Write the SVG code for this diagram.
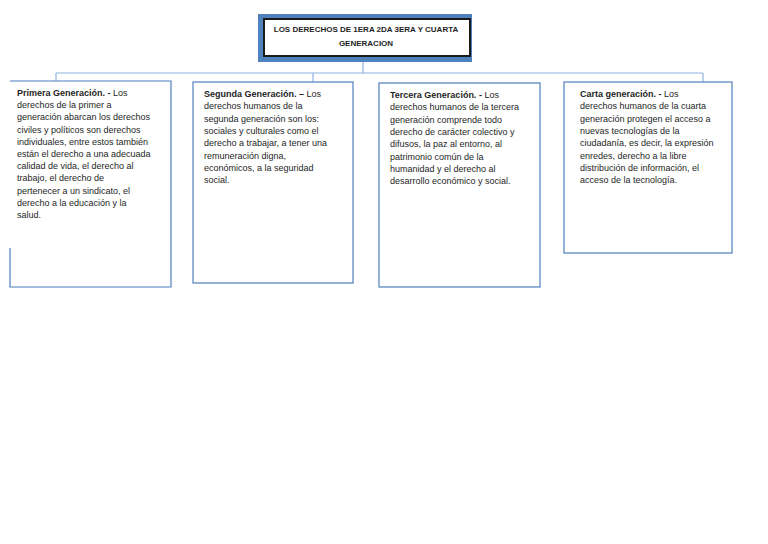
<svg xmlns="http://www.w3.org/2000/svg" width="768" height="544" viewBox="0 0 768 544">
<style>
.box{fill:#fff;stroke:#4f7fbd;stroke-width:1.2}
.con{fill:none;stroke:#8db4e2;stroke-width:1.2}
.t{font-family:"Liberation Sans",Arial,sans-serif;font-size:9px;fill:#1e1e1e}
.b{font-weight:bold}
.h{font-family:"Liberation Sans",Arial,sans-serif;font-size:8px;font-weight:bold;fill:#1e1e1e}
</style>
<rect width="768" height="544" fill="#fff"/>
<g id="connectors">
<path class="con" d="M363 62V73M56 73H703M56 73V81M313 73V82M703 73V82"/>
</g>
<g id="title">
<rect x="258" y="14" width="214" height="48" fill="#4f81bd"/>
<rect x="264" y="19" width="206" height="37" fill="#fff" stroke="#1a1a1a" stroke-width="2"/>
<text class="h" text-anchor="middle" x="366" y="32">LOS DERECHOS DE 1ERA 2DA 3ERA Y CUARTA</text>
<text class="h" text-anchor="middle" x="366" y="46">GENERACION</text>
</g>
<g id="primera">
<rect x="10" y="81" width="161" height="206" fill="#fff"/>
<path fill="none" stroke="#4f7fbd" stroke-width="1.2" d="M10 248V287H171V81H10"/>
<text class="t" x="17" y="96"><tspan class="b">Primera Generación. - </tspan> Los</text>
<text class="t" x="17" y="108.2">derechos de la primer a</text>
<text class="t" x="17" y="120.4">generación abarcan los derechos</text>
<text class="t" x="17" y="132.6">civiles y políticos son derechos</text>
<text class="t" x="17" y="144.8">individuales, entre estos también</text>
<text class="t" x="17" y="157">están el derecho a una adecuada</text>
<text class="t" x="17" y="169.2">calidad de vida, el derecho al</text>
<text class="t" x="17" y="181.4">trabajo, el derecho de</text>
<text class="t" x="17" y="193.6">pertenecer a un sindicato, el</text>
<text class="t" x="17" y="205.8">derecho a la educación y la</text>
<text class="t" x="17" y="218">salud.</text>
</g>
<g id="segunda">
<rect class="box" x="193" y="82" width="160" height="201"/>
<text class="t" x="204" y="97"><tspan class="b">Segunda Generación. –</tspan> Los</text>
<text class="t" x="204" y="109.3">derechos humanos de la</text>
<text class="t" x="204" y="121.6">segunda generación son los:</text>
<text class="t" x="204" y="133.9">sociales y culturales como el</text>
<text class="t" x="204" y="146.2">derecho a trabajar, a tener una</text>
<text class="t" x="204" y="158.5">remuneración digna,</text>
<text class="t" x="204" y="170.8">económicos, a la seguridad</text>
<text class="t" x="204" y="183.1">social.</text>
</g>
<g id="tercera">
<rect class="box" x="379" y="83" width="161" height="204"/>
<text class="t" x="390" y="98"><tspan class="b">Tercera Generación. - </tspan> Los</text>
<text class="t" x="390" y="110.3">derechos humanos de la tercera</text>
<text class="t" x="390" y="122.6">generación comprende todo</text>
<text class="t" x="390" y="134.9">derecho de carácter colectivo y</text>
<text class="t" x="390" y="147.2">difusos, la paz al entorno, al</text>
<text class="t" x="390" y="159.5">patrimonio común de la</text>
<text class="t" x="390" y="171.8">humanidad y el derecho al</text>
<text class="t" x="390" y="184.1">desarrollo económico y social.</text>
</g>
<g id="cuarta">
<rect class="box" x="564" y="82" width="168" height="171"/>
<text class="t" x="580" y="97"><tspan class="b">Carta generación. - </tspan> Los</text>
<text class="t" x="580" y="109.3">derechos humanos de la cuarta</text>
<text class="t" x="580" y="121.6">generación protegen el acceso a</text>
<text class="t" x="580" y="133.9">nuevas tecnologías de la</text>
<text class="t" x="580" y="146.2">ciudadanía, es decir, la expresión</text>
<text class="t" x="580" y="158.5">enredes, derecho a la libre</text>
<text class="t" x="580" y="170.8">distribución de información, el</text>
<text class="t" x="580" y="183.1">acceso de la tecnología.</text>
</g>
</svg>
